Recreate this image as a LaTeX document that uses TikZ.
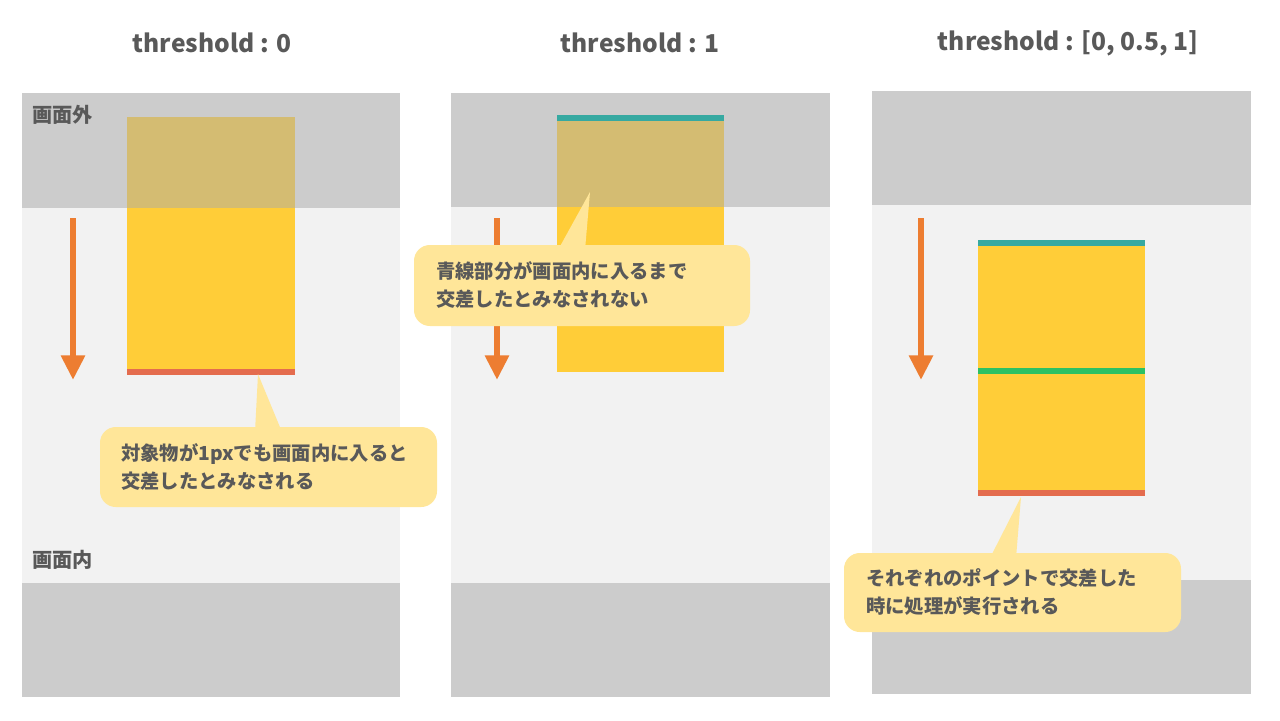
\documentclass[tikz,border=0pt]{standalone}
\usepackage{fontspec}
\setmainfont{Noto Sans CJK JP}
\usetikzlibrary{arrows.meta, positioning}
\definecolor{outside}{HTML}{CCCCCC}
\definecolor{inside}{HTML}{F2F2F2}
\definecolor{target}{HTML}{FFCD38}
\definecolor{overlap}{HTML}{D4BC72}
\definecolor{note}{HTML}{FFE699}
\definecolor{ink}{HTML}{595959}
\definecolor{flow}{HTML}{ED7D31}
\definecolor{lred}{HTML}{E46C4E}
\definecolor{lteal}{HTML}{36A9A1}
\definecolor{lgreen}{HTML}{2CC163}
\tikzset{
  title/.style = {font=\fontsize{14}{16}\selectfont\bfseries, text=ink},
  area/.style = {font=\fontsize{11.5}{14}\selectfont\bfseries, text=ink, anchor=west},
  note/.style = {fill=note, rounded corners=9pt, draw=none},
  tip/.style = {fill=note, sharp corners},
  notetext/.style = {font=\fontsize{11}{15.5}\selectfont\bfseries, text=ink, align=left, anchor=west},
  fall/.style = {-{Triangle[width=13pt,length=14pt]}, line width=3.5pt, flow},
}
\begin{document}
\begin{tikzpicture}[x=0.02cm, y=-0.02cm]
\useasboundingbox (0,0) rectangle (1280,720);
% titles
\node[title] (t0) at (212,43) {threshold : 0};
\node[title] (t1) at (640,43) {threshold : 1};
\node[title] (t2) at (1068,43) {threshold : [0, 0.5, 1]};

% panel 1
\fill[outside] (22,93) rectangle (400,697);
\fill[inside] (22,208) rectangle (400,583);
\fill[target] (127,117) rectangle (295,373);
\fill[overlap] (127,117) rectangle (295,208);
\fill[lred] (127,369) rectangle (295,375);
\node[area] (out0) at (26,115) {画面外};
\node[area] (in0) at (26,560) {画面内};
\coordinate (s0) at (73,218);
\coordinate (e0) at (73,380);
\draw[fall] (s0) -- (e0);
\fill[tip] (258,374) -- (255,432) -- (282,432) -- cycle;
\fill[note] (100,427) rectangle (437,507);
\node[notetext] (n0) at (115,467) {対象物が1pxでも画面内に入ると\\交差したとみなされる};

% panel 2
\fill[outside] (451,93) rectangle (830,697);
\fill[inside] (451,207) rectangle (830,583);
\fill[target] (557,117) rectangle (724,372);
\fill[overlap] (557,117) rectangle (724,207);
\fill[lteal] (557,115) rectangle (724,121);
\coordinate (s1) at (497,218);
\coordinate (e1) at (497,380);
\draw[fall] (s1) -- (e1);
\fill[tip] (590,192) -- (558,250) -- (585,250) -- cycle;
\fill[note] (414,245) rectangle (750,326);
\node[notetext] (n1) at (430,285) {青線部分が画面内に入るまで\\交差したとみなされない};

% panel 3
\fill[outside] (872,91) rectangle (1251,694);
\fill[inside] (872,205) rectangle (1251,580);
\fill[target] (978,241) rectangle (1145,495);
\fill[lteal] (978,240) rectangle (1145,246);
\fill[lgreen] (978,368) rectangle (1145,374);
\fill[lred] (978,490) rectangle (1145,496);
\coordinate (s2) at (921,218);
\coordinate (e2) at (921,380);
\draw[fall] (s2) -- (e2);
\fill[tip] (1021,497) -- (990,558) -- (1016,558) -- cycle;
\fill[note] (844,553) rectangle (1181,632);
\node[notetext] (n2) at (860,592) {それぞれのポイントで交差した\\時に処理が実行される};
\end{tikzpicture}
\end{document}
